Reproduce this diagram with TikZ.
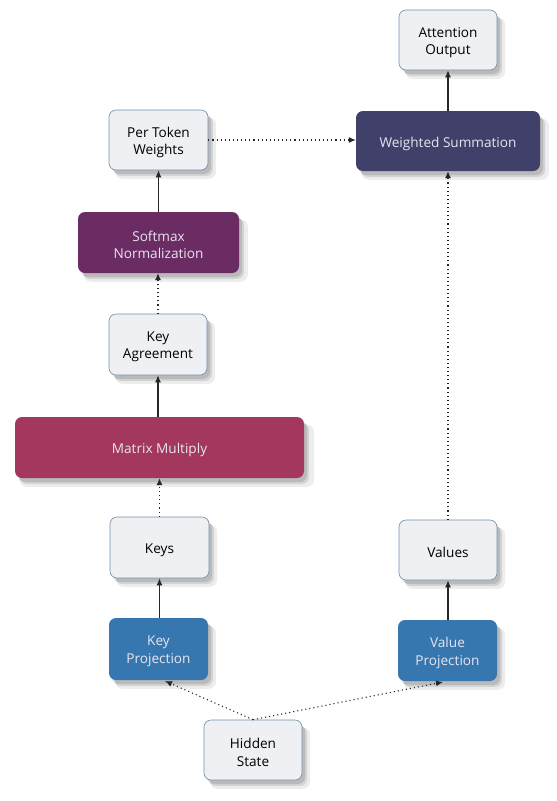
\documentclass[tikz,border=0pt]{standalone}
\usepackage{fontspec}
\setmainfont{Open Sans}
\usetikzlibrary{arrows.meta,shadows}
\definecolor{lightfill}{HTML}{EEF0F3}
\definecolor{lightdraw}{HTML}{6F8EAA}
\definecolor{softmaxc}{HTML}{6A2C62}
\definecolor{weightedc}{HTML}{40406A}
\definecolor{matrixc}{HTML}{A3375D}
\definecolor{projc}{HTML}{3777B0}
\definecolor{lighttext}{HTML}{E8E4F0}
\tikzset{
  x=1pt, y=-1pt,
  base/.style={rounded corners=7pt, inner sep=0pt,
     drop shadow={shadow xshift=7pt, shadow yshift=-8pt, opacity=0.07, fill=black, shadow scale=1.02},
     drop shadow={shadow xshift=5pt, shadow yshift=-6pt, opacity=0.10, fill=black},
     drop shadow={shadow xshift=3pt, shadow yshift=-4pt, opacity=0.12, fill=black}},
  light/.style={base, fill=lightfill, draw=lightdraw, line width=0.6pt},
  dark/.style={base, draw=none},
  lbl/.style={align=center, font=\fontsize{13.6}{17.5}\selectfont, inner sep=0pt, label distance=0pt, yshift=-2.5pt},
  ltxt/.style={label={[lbl, text=black]center:#1}},
  dtxt/.style={label={[lbl, text=lighttext]center:#1}},
  solidarrow/.style={-{Latex[length=7pt,width=6pt]}, line width=1.1pt, black!85},
  dotarrow/.style={-{Latex[length=7pt,width=6pt]}, line width=1.1pt, black!85, dash pattern=on 1.1pt off 3pt},
}
\begin{document}
\begin{tikzpicture}
\useasboundingbox (0,0) rectangle (557,801);
\fill[white] (0,0) rectangle (557,801);
\node[light, minimum width=98pt, minimum height=60pt, ltxt={Attention\\Output}] (ao) at (448,40) {};
\node[dark, fill=weightedc, minimum width=184pt, minimum height=60pt, dtxt={Weighted Summation}] (ws) at (448,141) {};
\node[light, minimum width=99pt, minimum height=60pt, ltxt={Per Token\\Weights}] (ptw) at (158.5,140) {};
\node[dark, fill=softmaxc, minimum width=161pt, minimum height=61pt, dtxt={Softmax\\Normalization}] (sm) at (158.5,242.5) {};
\node[light, minimum width=98pt, minimum height=61pt, ltxt={Key\\Agreement}] (ka) at (158,344.5) {};
\node[dark, fill=matrixc, minimum width=289pt, minimum height=61pt, dtxt={Matrix Multiply}] (mm) at (159.5,447.5) {};
\node[light, minimum width=99pt, minimum height=61pt, ltxt={Keys}] (keys) at (159.5,547.5) {};
\node[light, minimum width=98pt, minimum height=60pt, ltxt={Values}] (vals) at (448,550) {};
\node[dark, fill=projc, minimum width=99pt, minimum height=62pt, dtxt={Key\\Projection}] (kp) at (158.5,649) {};
\node[dark, fill=projc, minimum width=99pt, minimum height=61pt, dtxt={Value\\Projection}] (vp) at (447.5,650.5) {};
\node[light, minimum width=98pt, minimum height=60pt, ltxt={Hidden\\State}] (hs) at (253,750) {};

\coordinate (kpin) at (165,681);
\coordinate (vpin) at (443,682);
\draw[dotarrow] (hs.north) -- (kpin);
\draw[dotarrow] (hs.north) -- (vpin);
\draw[solidarrow] (kp.north -| keys.south) -- (keys.south);
\draw[dotarrow] (keys.north) -- (keys.north |- mm.south);
\draw[solidarrow] (mm.north -| ka.south) -- (ka.south);
\draw[dotarrow] (ka.north) -- (ka.north |- sm.south);
\draw[solidarrow] (sm.north -| ptw.south) -- (ptw.south);
\draw[dotarrow] (ptw.east) -- (ptw.east -| ws.west);
\draw[solidarrow] (vp.north -| vals.south) -- (vals.south);
\draw[dotarrow] (vals.north) -- (vals.north |- ws.south);
\draw[solidarrow] (ws.north -| ao.south) -- (ao.south);
\end{tikzpicture}
\end{document}
